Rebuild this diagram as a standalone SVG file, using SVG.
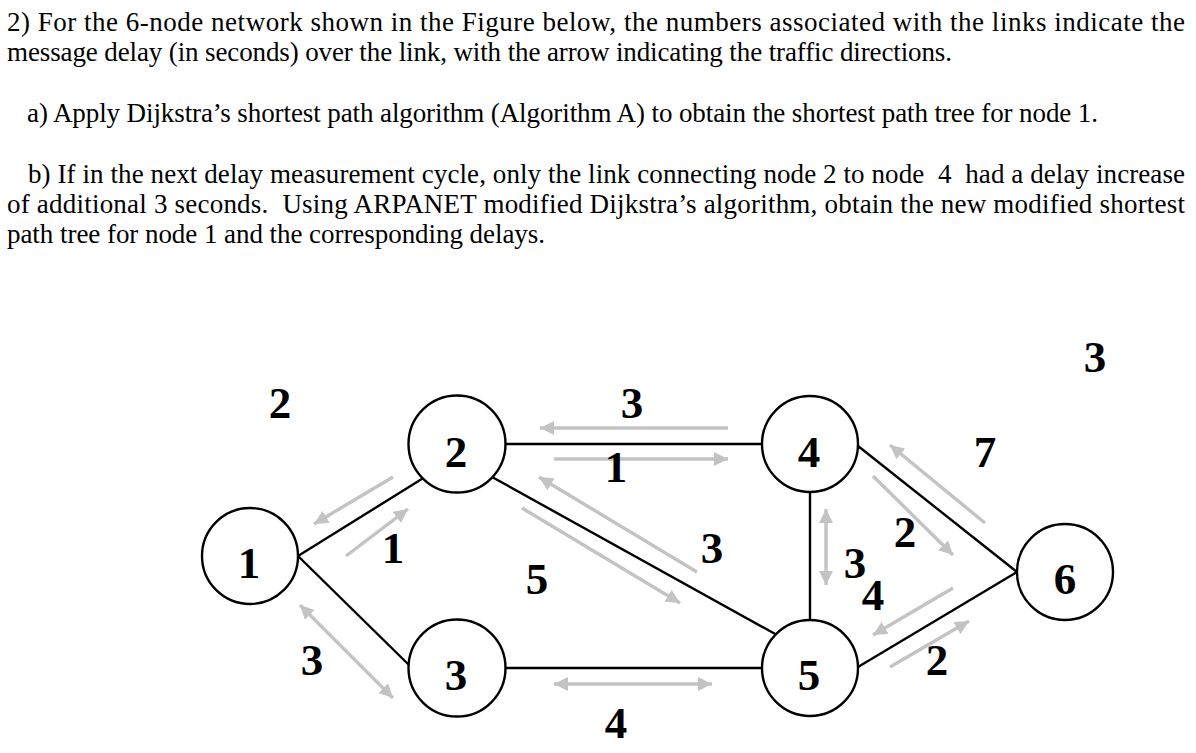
<svg xmlns="http://www.w3.org/2000/svg" width="1196" height="753" viewBox="0 0 1196 753">
<style>
.q{font-family:"Liberation Serif","Times New Roman",serif;font-size:27px;fill:#000;white-space:pre}
.n{fill:#fff;stroke:#000;stroke-width:2.4}
.lb{font-family:"Liberation Serif","Times New Roman",serif;font-size:45px;font-weight:bold;fill:#000;text-anchor:middle}
.e{stroke:#000;stroke-width:2.4;fill:none}
.a{stroke:#c3c3c3;stroke-width:3.4;fill:none;marker-end:url(#ah)}
.d{stroke:#c3c3c3;stroke-width:3.4;fill:none;marker-end:url(#ah);marker-start:url(#ah)}
</style>
<defs>
<marker id="ah" viewBox="0 0 14 14" refX="14" refY="7" markerWidth="14" markerHeight="14" markerUnits="userSpaceOnUse" orient="auto-start-reverse">
<path d="M0,0 L14,7 L0,14 z" fill="#c3c3c3"/>
</marker>
</defs>
<rect width="1196" height="753" fill="#fff"/>
<g id="question">
<text class="q" x="7" y="31" textLength="1178" lengthAdjust="spacing">2) For the 6-node network shown in the Figure below, the numbers associated with the links indicate the</text>
<text class="q" x="7" y="61" textLength="945" lengthAdjust="spacing">message delay (in seconds) over the link, with the arrow indicating the traffic directions.</text>
<text class="q" x="27" y="122" textLength="1071" lengthAdjust="spacing">a) Apply Dijkstra’s shortest path algorithm (Algorithm A) to obtain the shortest path tree for node 1.</text>
<text class="q" x="28" y="183" textLength="1157" lengthAdjust="spacing">b) If in the next delay measurement cycle, only the link connecting node 2 to node  4  had a delay increase</text>
<text class="q" x="7" y="213" textLength="1178" lengthAdjust="spacing">of additional 3 seconds.  Using ARPANET modified Dijkstra’s algorithm, obtain the new modified shortest</text>
<text class="q" x="7" y="243" textLength="538" lengthAdjust="spacing">path tree for node 1 and the corresponding delays.</text>
</g>
<g id="connectors">
<line class="e" x1="298" y1="556" x2="425" y2="477"/>
<line class="e" x1="298" y1="556" x2="409" y2="665"/>
<line class="e" x1="506" y1="444" x2="762" y2="444"/>
<line class="e" x1="492" y1="477" x2="777" y2="635"/>
<line class="e" x1="506" y1="668" x2="762" y2="668"/>
<line class="e" x1="810" y1="493" x2="810" y2="620"/>
<line class="e" x1="858" y1="446" x2="1017" y2="572"/>
<line class="e" x1="858" y1="667" x2="1017" y2="572"/>
<line class="a" x1="393" y1="477" x2="314" y2="524"/>
<line class="a" x1="346" y1="556" x2="408" y2="509"/>
<line class="d" x1="300" y1="605" x2="393" y2="698"/>
<line class="a" x1="728" y1="428" x2="540" y2="428"/>
<line class="a" x1="554" y1="459" x2="728" y2="459"/>
<line class="a" x1="697" y1="572" x2="539" y2="477"/>
<line class="a" x1="522" y1="508" x2="680" y2="603"/>
<line class="d" x1="554" y1="684" x2="712" y2="684"/>
<line class="d" x1="826" y1="509" x2="826" y2="585"/>
<line class="a" x1="985" y1="523" x2="890" y2="445"/>
<line class="a" x1="873" y1="476" x2="953" y2="555"/>
<line class="a" x1="953" y1="588" x2="873" y2="635"/>
<line class="a" x1="890" y1="667" x2="969" y2="621"/>
<text class="lb" x="280" y="418">2</text>
<text class="lb" x="393" y="563">1</text>
<text class="lb" x="312" y="675">3</text>
<text class="lb" x="632" y="418">3</text>
<text class="lb" x="616" y="482">1</text>
<text class="lb" x="712" y="563">3</text>
<text class="lb" x="537" y="594">5</text>
<text class="lb" x="616" y="738">4</text>
<text class="lb" x="855" y="578">3</text>
<text class="lb" x="873" y="610">4</text>
<text class="lb" x="985" y="467">7</text>
<text class="lb" x="905" y="547">2</text>
<text class="lb" x="1095" y="372">3</text>
<text class="lb" x="937" y="675">2</text>
</g>
<g id="node1"><circle class="n" cx="250" cy="556" r="48"/><text class="lb" x="249" y="578">1</text></g>
<g id="node2"><circle class="n" cx="457" cy="444" r="48.5"/><text class="lb" x="456" y="467">2</text></g>
<g id="node3"><circle class="n" cx="457" cy="668" r="48.5"/><text class="lb" x="456" y="690">3</text></g>
<g id="node4"><circle class="n" cx="810" cy="444" r="48"/><text class="lb" x="809" y="467">4</text></g>
<g id="node5"><circle class="n" cx="810" cy="668" r="48"/><text class="lb" x="809" y="690">5</text></g>
<g id="node6"><circle class="n" cx="1065" cy="572" r="48"/><text class="lb" x="1065" y="594">6</text></g>
</svg>
